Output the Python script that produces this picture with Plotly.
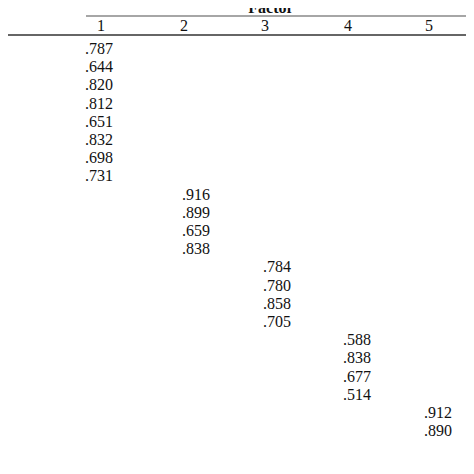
import plotly.graph_objects as go

factors = ["1", "2", "3", "4", "5"]
loadings = [
    [".787", ".644", ".820", ".812", ".651", ".832", ".698", ".731"],
    [".916", ".899", ".659", ".838"],
    [".784", ".780", ".858", ".705"],
    [".588", ".838", ".677", ".514"],
    [".912", ".890"],
]

header_x = [93, 176, 257, 340, 421]
value_x = [91, 188, 269, 349, 430]
row0, step = 42, 18.2
F = dict(family="Liberation Serif", size=16, color="#111")

fig = go.Figure()
fig.add_trace(go.Scatter(x=[263], y=[1], mode="text", text=["<b>Factor</b>"], textfont=F))
fig.add_trace(go.Scatter(x=header_x, y=[19]*5, mode="text", text=factors, textfont=F))
r = 0
for ci, col in enumerate(loadings):
    ys = [row0 + (r + i) * step for i in range(len(col))]
    fig.add_trace(go.Scatter(x=[value_x[ci]]*len(col), y=ys, mode="text", text=col, textfont=F))
    r += len(col)

fig.add_shape(type="line", x0=78, x1=480, y0=8, y1=8, line=dict(color="#888", width=1.5))
fig.add_shape(type="line", x0=-20, x1=480, y0=27, y1=27, line=dict(color="#666", width=2))

fig.update_layout(width=474, height=474, margin=dict(l=0, r=0, t=0, b=0),
                  plot_bgcolor="white", paper_bgcolor="white", showlegend=False,
                  xaxis=dict(range=[0, 474], visible=False),
                  yaxis=dict(range=[474, 0], visible=False))
fig.write_html("out.html")
